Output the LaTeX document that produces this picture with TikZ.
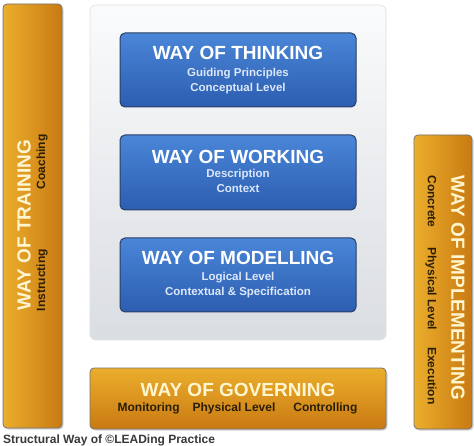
\documentclass[tikz,border=0pt]{standalone}
\usepackage{fontspec}
\setmainfont{Liberation Sans}
\usetikzlibrary{shadows}
\definecolor{orL}{HTML}{EBAE2C}
\definecolor{orD}{HTML}{C97A12}
\definecolor{blT}{HTML}{4A86D8}
\definecolor{blB}{HTML}{2C5DB0}
\definecolor{blE}{HTML}{2A3F66}
\definecolor{grT}{HTML}{FAFBFC}
\definecolor{grB}{HTML}{DADDE2}
\definecolor{ttl}{HTML}{FFF6CF}
\definecolor{sub}{HTML}{2B1E05}
\definecolor{bsub}{HTML}{DCE7FA}
\tikzset{
  orbar/.style={draw=black!55, line width=0.8pt, rounded corners=4pt, left color=orL, right color=orD, drop shadow={shadow xshift=1.5pt, shadow yshift=-1.5pt, opacity=0.35}},
  orbox/.style={draw=black!55, line width=0.8pt, rounded corners=4pt, top color=orL, bottom color=orD, drop shadow={shadow xshift=1.5pt, shadow yshift=-1.5pt, opacity=0.35}},
  bluebox/.style={draw=blE, line width=1pt, rounded corners=5pt, top color=blT, bottom color=blB},
  panel/.style={draw=black!12, line width=0.6pt, rounded corners=6pt, top color=grT, bottom color=grB},
  wtitle/.style={font=\fontsize{19}{21}\selectfont\bfseries, text=white, inner sep=0pt},
  btext/.style={font=\fontsize{11.5}{15}\selectfont\bfseries, text=bsub, align=center, inner sep=0pt},
  otitle/.style={font=\fontsize{19}{21}\selectfont\bfseries, text=ttl, inner sep=0pt},
  osub/.style={font=\fontsize{12}{14}\selectfont\bfseries, text=sub, inner sep=0pt},
}
\begin{document}
\begin{tikzpicture}[x=1pt,y=-1pt]
\useasboundingbox[fill=white] (0,0) rectangle (474,446);
% gray panel
\path[panel] (90,5) rectangle (386,340);
\node[inner sep=0pt] (panel) at (238,172) {};
% blue boxes
\path[bluebox] (120,33) rectangle (356,107);
\node[wtitle] (t1) at (238,53) {WAY OF THINKING};
\node[btext, anchor=north] (s1) at (238,68) {Guiding Principles\\Conceptual Level};
\path[bluebox] (120,135) rectangle (356,210);
\node[wtitle] (t2) at (238,157) {WAY OF WORKING};
\node[btext, anchor=north] (s2) at (238,169) {Description\\Context};
\path[bluebox] (120,238) rectangle (356,312);
\node[wtitle] (t3) at (238,258) {WAY OF MODELLING};
\node[btext, anchor=north] (s3) at (238,272) {Logical Level\\Contextual \& Specification};
% left bar
\path[orbar] (3,4) rectangle (62,428);
\node[otitle, rotate=90] (lt) at (24,225) {WAY OF TRAINING};
\node[osub, rotate=90] (ls) at (42,223) {Instructing\hspace{60pt}Coaching};
% right bar
\path[orbar] (414,135) rectangle (472,429);
\node[otitle, rotate=-90] (rt) at (458,288) {WAY OF IMPLEMENTING};
\node[osub, rotate=-90] (rs) at (431,290) {Concrete\hspace{20pt}Physical Level\hspace{17pt}Execution};
% governing
\path[orbox] (90,368) rectangle (386,429);
\node[otitle] (gt) at (238,390) {WAY OF GOVERNING};
\node[osub] (gs) at (237.5,408) {Monitoring\hspace{13pt}Physical Level\hspace{18pt}Controlling};
% caption
\node[anchor=west, inner sep=0pt, font=\fontsize{12}{14}\selectfont\bfseries, text=black!78] (cap) at (3,440) {Structural Way of ©LEADing Practice};
\end{tikzpicture}
\end{document}
